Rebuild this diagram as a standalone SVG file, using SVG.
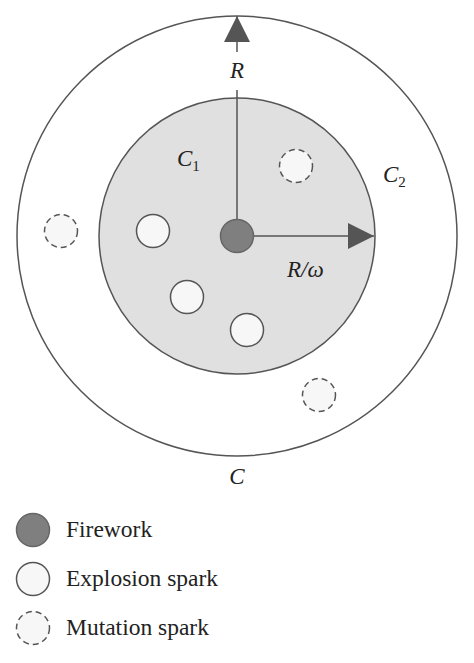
<svg xmlns="http://www.w3.org/2000/svg" width="474" height="663" viewBox="0 0 474 663">
<style>
.lbl{font-family:"Liberation Serif",serif;font-style:italic;font-size:23px;fill:#222}
.sub{font-style:normal;font-size:15px}
.leg{font-family:"Liberation Serif",serif;font-size:23.5px;fill:#222}
.fw{fill:#7f7f7f;stroke:#666;stroke-width:1.5}
.ex{fill:#f7f7f7;stroke:#555;stroke-width:1.5}
.mu{fill:#f7f7f7;stroke:#555;stroke-width:1.5;stroke-dasharray:6 4}
.ln{stroke:#555;stroke-width:1.5;fill:none}
</style>
<defs>
<marker id="ah" markerWidth="26" markerHeight="26" refX="26" refY="13" markerUnits="userSpaceOnUse" orient="auto">
<path d="M0,0 L26,13 L0,26 Z" fill="#555"/>
</marker>
</defs>
<rect width="474" height="663" fill="#fff"/>
<g id="outer-circle">
<circle cx="237" cy="236" r="220" fill="#fff" stroke="#555" stroke-width="1.5"/>
</g>
<g id="inner-circle">
<circle cx="237" cy="236" r="138" fill="#e0e0e0" stroke="#555" stroke-width="1.5"/>
</g>
<g id="connectors">
<line class="ln" x1="237" y1="220" x2="237" y2="90"/>
<line class="ln" x1="237" y1="52" x2="237" y2="16" marker-end="url(#ah)"/>
<line class="ln" x1="253" y1="236" x2="374" y2="236" marker-end="url(#ah)"/>
</g>
<g id="firework"><circle class="fw" cx="237" cy="236" r="16.5"/></g>
<g id="explosion1"><circle class="ex" cx="153" cy="231" r="16.5"/></g>
<g id="explosion2"><circle class="ex" cx="187" cy="297" r="16.5"/></g>
<g id="explosion3"><circle class="ex" cx="247" cy="330" r="16.5"/></g>
<g id="mutation1"><circle class="mu" cx="61" cy="231" r="16.5"/></g>
<g id="mutation2"><circle class="mu" cx="296" cy="166" r="16.5"/></g>
<g id="mutation3"><circle class="mu" cx="319" cy="395" r="16.5"/></g>
<g id="labels">
<text class="lbl" x="237" y="78" text-anchor="middle">R</text>
<text class="lbl" x="287" y="277">R/ω</text>
<text class="lbl" x="177" y="166">C<tspan class="sub" dy="5">1</tspan></text>
<text class="lbl" x="383" y="182">C<tspan class="sub" dy="5">2</tspan></text>
<text class="lbl" x="237" y="484" text-anchor="middle">C</text>
</g>
<g id="legend">
<circle class="fw" cx="33" cy="530" r="16.5"/>
<text class="leg" x="66" y="537">Firework</text>
<circle class="ex" cx="33" cy="579" r="16.5"/>
<text class="leg" x="66" y="586">Explosion spark</text>
<circle class="mu" cx="33" cy="628" r="16.5"/>
<text class="leg" x="66" y="635">Mutation spark</text>
</g>
</svg>
